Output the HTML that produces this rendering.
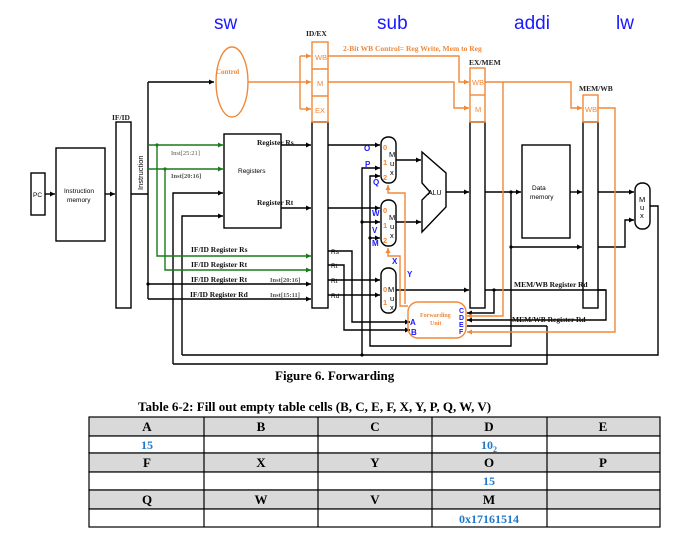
<!DOCTYPE html>
<html><head><meta charset="utf-8"><style>
html,body{margin:0;padding:0;background:#fff;width:675px;height:538px;overflow:hidden}
svg{display:block}
.s{font-family:"Liberation Serif",serif;font-weight:bold}
.a{font-family:"Liberation Sans",sans-serif}
</style></head><body>
<svg width="675" height="538" viewBox="0 0 675 538" xmlns="http://www.w3.org/2000/svg">
<defs>
<marker id="k" markerWidth="6" markerHeight="6" refX="5" refY="3" orient="auto" markerUnits="userSpaceOnUse"><path d="M0,0.5L5,3L0,5.5z" fill="#000"/></marker>
<marker id="g" markerWidth="6" markerHeight="6" refX="5" refY="3" orient="auto" markerUnits="userSpaceOnUse"><path d="M0,0.5L5,3L0,5.5z" fill="#1a7a1a"/></marker>
<marker id="o" markerWidth="6" markerHeight="6" refX="5" refY="3" orient="auto" markerUnits="userSpaceOnUse"><path d="M0,0.5L5,3L0,5.5z" fill="#f0883a"/></marker>
</defs>
<g class="a" fill="#1a1aff" font-size="19">
<text x="214" y="29">sw</text><text x="377" y="29">sub</text><text x="514" y="29">addi</text><text x="616" y="29">lw</text>
</g>
<g class="s" font-size="7.5" fill="#222">
<text x="306" y="36">ID/EX</text><text x="112" y="120">IF/ID</text><text x="469" y="65">EX/MEM</text><text x="579" y="91">MEM/WB</text>
</g>
<text class="s" x="343" y="51" font-size="7.5" fill="#f0883a">2-Bit WB Control= Reg Write, Mem to Reg</text>

<g fill="none" stroke="#000" stroke-width="1.4">
<rect x="31" y="173" width="14" height="42" fill="#fff"/>
<rect x="56" y="148" width="49" height="93"/>
<rect x="116" y="122" width="15" height="186"/>
<rect x="224" y="134" width="57" height="94"/>
<rect x="312" y="122" width="16" height="186"/>
<rect x="470" y="122" width="15" height="186"/>
<rect x="583" y="122" width="15" height="186"/>
<rect x="522" y="145" width="48" height="93"/>
<rect x="381" y="137" width="15" height="46" rx="7"/>
<rect x="381" y="200" width="15" height="46" rx="7"/>
<rect x="381" y="268" width="15" height="45" rx="7"/>
<rect x="635" y="183" width="15" height="46" rx="7"/>
<path d="M422,152 L446,173 L446,207 L422,232 L422,200 L430,192 L422,183 Z"/>
</g>
<g fill="none" stroke="#000" stroke-width="1.4">
<path d="M45,194H55" marker-end="url(#k)"/>
<path d="M105,194H115" marker-end="url(#k)"/>
<path d="M131,194H148"/>
<path d="M148,82V299" />
<path d="M148,82H214" marker-end="url(#k)"/>
<path d="M148,284H311" marker-end="url(#k)"/>
<path d="M148,299H311" marker-end="url(#k)"/>
<path d="M173,364V193H223" marker-end="url(#k)"/>
<path d="M182,355V216H223" marker-end="url(#k)"/>
<path d="M281,145H311" marker-end="url(#k)"/>
<path d="M281,208H311" marker-end="url(#k)"/>
<path d="M328,145H380" marker-end="url(#k)"/>
<path d="M328,208H380" marker-end="url(#k)"/>
<path d="M328,251H352V322H410" marker-end="url(#k)"/>
<path d="M328,265H344V330H410" marker-end="url(#k)"/>
<path d="M328,280H380" marker-end="url(#k)"/>
<path d="M328,295H380" marker-end="url(#k)"/>
<path d="M396,160H421" marker-end="url(#k)"/>
<path d="M396,222H421" marker-end="url(#k)"/>
<path d="M446,192H469" marker-end="url(#k)"/>
<path d="M485,192H521" marker-end="url(#k)"/>
<path d="M570,192H582" marker-end="url(#k)"/>
<path d="M598,192H634" marker-end="url(#k)"/>
<path d="M511,192V346H370V176H380" marker-end="url(#k)"/>
<path d="M370,238H380" marker-end="url(#k)"/>
<path d="M511,247H582" marker-end="url(#k)"/>
<path d="M598,247H625V220H634" marker-end="url(#k)"/>
<path d="M650,206H658V355H182"/>
<path d="M362,355V168H380" marker-end="url(#k)"/>
<path d="M362,222H380" marker-end="url(#k)"/>
<path d="M396,290H469" marker-end="url(#k)"/>
<path d="M485,290H605"/>
<path d="M494,290V313H467" marker-end="url(#k)"/>
<path d="M598,290H606V320H467" marker-end="url(#k)"/>
<path d="M547,326V364H173"/>
<path d="M547,326H467"/>
</g>
<g fill="#000"><circle cx="148" cy="284" r="1.6"/><circle cx="494" cy="290" r="1.6"/><circle cx="362" cy="355" r="1.6"/><circle cx="511" cy="192" r="1.6"/><circle cx="511" cy="247" r="1.6"/><circle cx="370" cy="238" r="1.6"/><circle cx="362" cy="222" r="1.6"/></g>
<g fill="none" stroke="#1a7a1a" stroke-width="1.4">
<path d="M148,145H223" marker-end="url(#g)"/>
<path d="M148,169H223" marker-end="url(#g)"/>
<path d="M157,145V256H311" marker-end="url(#g)"/>
<path d="M165,169V270H311" marker-end="url(#g)"/>
</g>
<g fill="#1a7a1a"><circle cx="157" cy="145" r="1.6"/><circle cx="165" cy="169" r="1.6"/></g>
<g fill="none" stroke="#f0883a" stroke-width="1.4">
<ellipse cx="232" cy="82" rx="16" ry="35"/>
<rect x="312" y="42" width="16" height="80"/><path d="M312,69H328M312,96H328"/>
<rect x="470" y="68" width="15" height="54"/><path d="M470,95H485"/>
<rect x="583" y="95" width="15" height="27"/>
<path d="M248,82H300"/>
<path d="M300,56V109"/>
<path d="M300,56H311" marker-end="url(#o)"/>
<path d="M300,82H311" marker-end="url(#o)"/>
<path d="M300,109H311" marker-end="url(#o)"/>
<path d="M328,56H459V82H469" marker-end="url(#o)"/>
<path d="M328,82H454V108H469" marker-end="url(#o)"/>
<path d="M485,82H571V108H582" marker-end="url(#o)"/>
<path d="M503,82V316H467" marker-end="url(#o)"/>
<path d="M598,108H615V332H467" marker-end="url(#o)"/>
<path d="M405,304V193H388V185" marker-end="url(#o)"/>
<path d="M408,306H400V256H388V248" marker-end="url(#o)"/>
<rect x="408" y="302" width="58" height="36" rx="10"/>
</g>
<g class="a" font-size="7.5" fill="#f0883a">
<text x="315" y="60">WB</text><text x="317" y="86">M</text><text x="315" y="113">EX</text>
<text x="472" y="85">WB</text><text x="475" y="112">M</text><text x="585" y="112">WB</text>
</g>
<text class="s" x="216" y="74" font-size="7" fill="#f0883a">Control</text>
<text class="s" x="420" y="317" font-size="6" fill="#f0883a">Forwarding</text>
<text class="s" x="430" y="325" font-size="6" fill="#f0883a">Unit</text>
<g class="a" font-size="7.5">
<text x="383" y="150" fill="#f0883a" font-weight="bold">0</text><text x="383" y="165" fill="#f0883a" font-weight="bold">1</text><text x="383" y="180" fill="#f0883a" font-weight="bold">2</text>
<text x="389" y="157">M</text><text x="390" y="166">u</text><text x="390" y="175">x</text>
<text x="383" y="213" fill="#f0883a" font-weight="bold">0</text><text x="383" y="228" fill="#f0883a" font-weight="bold">1</text><text x="383" y="243" fill="#f0883a" font-weight="bold">2</text>
<text x="389" y="220">M</text><text x="390" y="229">u</text><text x="390" y="238">x</text>
<text x="383" y="292" fill="#f0883a" font-weight="bold">0</text><text x="383" y="305" fill="#f0883a" font-weight="bold">1</text>
<text x="388" y="292">M</text><text x="390" y="301">u</text><text x="390" y="310">x</text>
<text x="639" y="202">M</text><text x="640" y="210">u</text><text x="640" y="218">x</text>
<text x="428" y="195" font-size="7">ALU</text>
<text x="532" y="190" font-size="6.5">Data</text><text x="530" y="199" font-size="6.5">memory</text>
<text x="33" y="197" font-size="6.5">PC</text>
<text x="64" y="193" font-size="6.5">Instruction</text><text x="67" y="202" font-size="6.5">memory</text>
<text x="238" y="173" font-size="6.5">Registers</text>
<text x="331" y="254" font-size="6.5">Rs</text><text x="331" y="268" font-size="6.5">Rt</text><text x="331" y="283" font-size="6.5">Rt</text><text x="331" y="298" font-size="6.5">Rd</text>
<text transform="translate(143,190) rotate(-90)" font-size="7.5">Instruction</text>
</g>
<g class="a" font-size="8" fill="#1a1aff" font-weight="bold">
<text x="364" y="151">O</text><text x="365" y="167">P</text><text x="373" y="185">Q</text>
<text x="372" y="216">W</text><text x="372" y="233">V</text><text x="372" y="246">M</text>
<text x="392" y="264">X</text><text x="407" y="277">Y</text>
<text x="410" y="325">A</text><text x="411" y="335">B</text>
<text x="459" y="313" font-size="7">C</text><text x="459" y="320" font-size="7">D</text><text x="459" y="327" font-size="7">E</text><text x="459" y="334" font-size="7">F</text>
</g>
<g class="s" font-size="7.5" fill="#111">
<text x="257" y="145">Register Rs</text><text x="257" y="205">Register Rt</text>
<text x="191" y="252">IF/ID Register Rs</text><text x="191" y="267">IF/ID Register Rt</text>
<text x="191" y="282">IF/ID Register Rt</text><text x="190" y="297">IF/ID Register Rd</text>
<text x="514" y="287">MEM/WB Register Rd</text><text x="512" y="322">MEM/WB Register Rd</text>
</g>
<g class="s" font-size="6.5" fill="#555" font-weight="normal">
<text x="171" y="155" font-weight="normal">Inst[25:21]</text><text x="171" y="178">Inst[20:16]</text>
<text x="270" y="282">Inst[20:16]</text><text x="270" y="297">Inst[15:11]</text>
</g>
<text class="s" x="275" y="380" font-size="13">Figure 6. Forwarding</text>
<text class="s" x="138" y="411" font-size="13">Table 6-2: Fill out empty table cells (B, C, E, F, X, Y, P, Q, W, V)</text>
<g stroke="#000" stroke-width="1.2">
<rect x="89" y="417" width="571" height="19" fill="#d9d9d9"/>
<rect x="89" y="436" width="571" height="17" fill="#fff"/>
<rect x="89" y="453" width="571" height="19" fill="#d9d9d9"/>
<rect x="89" y="472" width="571" height="18" fill="#fff"/>
<rect x="89" y="490" width="571" height="19" fill="#d9d9d9"/>
<rect x="89" y="509" width="571" height="18" fill="#fff"/>
<path d="M204,417V527M318,417V527M432,417V527M547,417V527"/>
</g>
<g class="s" font-size="13" text-anchor="middle" fill="#000">
<text x="147" y="431">A</text><text x="261" y="431">B</text><text x="375" y="431">C</text><text x="489" y="431">D</text><text x="603" y="431">E</text>
<text x="147" y="467">F</text><text x="261" y="467">X</text><text x="375" y="467">Y</text><text x="489" y="467">O</text><text x="603" y="467">P</text>
<text x="147" y="504">Q</text><text x="261" y="504">W</text><text x="375" y="504">V</text><text x="489" y="504">M</text>
</g>
<g class="s" font-size="12" fill="#1f78c8" text-anchor="middle">
<text x="147" y="449">15</text><text x="489" y="449">10<tspan font-size="8" dy="3">2</tspan></text>
<text x="489" y="485">15</text><text x="489" y="523">0x17161514</text>
</g>
</svg>
</body></html>
